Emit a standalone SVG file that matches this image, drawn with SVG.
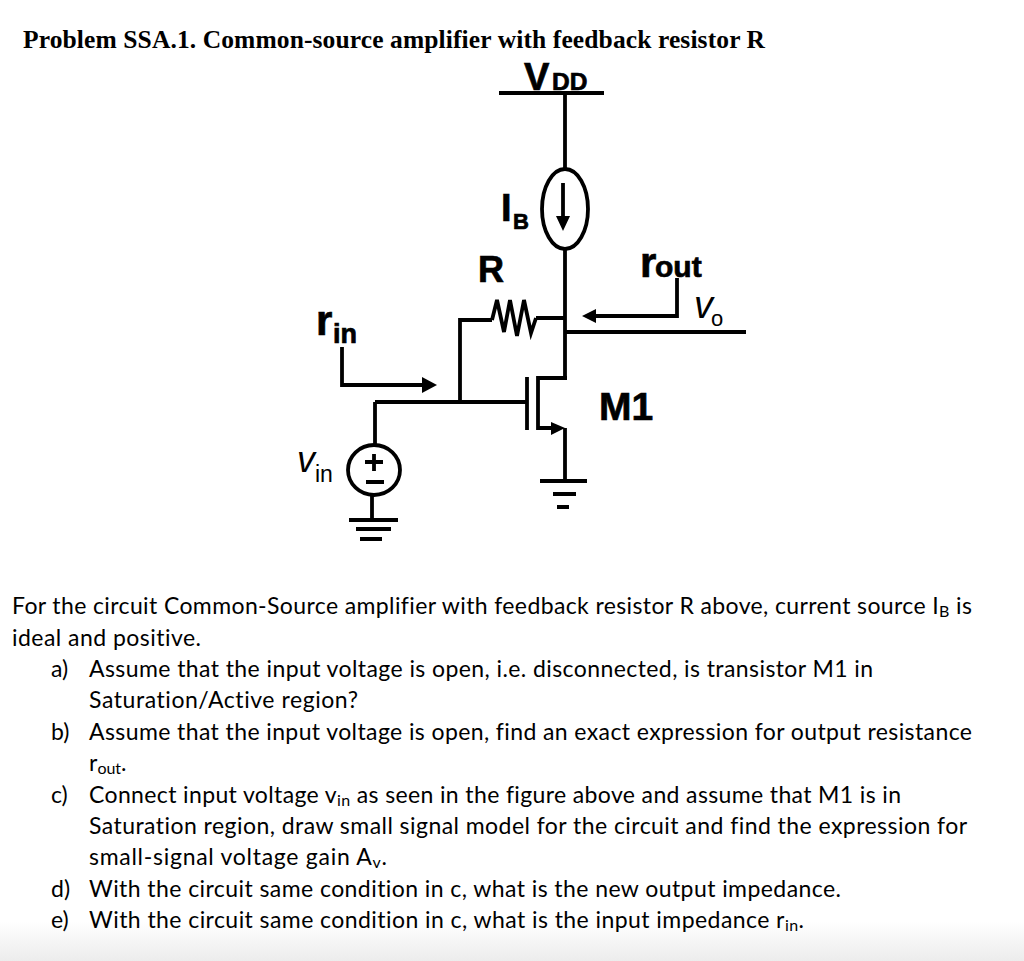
<svg xmlns="http://www.w3.org/2000/svg" width="1024" height="961" viewBox="0 0 1024 961">
<style>
.w{fill:none;stroke:#000;stroke-width:3.8;stroke-linejoin:miter}
.h{fill:#000;stroke:none}
.a{font-family:"Liberation Sans",Arial,sans-serif;fill:#000}
.b{font-weight:700;stroke:#000;stroke-width:.7}
.i{font-style:italic}
.t{font-family:"Lato","Noto Sans",sans-serif;font-size:23px;fill:#000;font-variant-ligatures:none}
.title{font-family:"Liberation Serif","Times New Roman",serif;font-weight:700;font-size:25.5px;fill:#000}
.s{font-size:16px}
</style>
<defs>
<linearGradient id="fade" x1="0" y1="0" x2="0" y2="1"><stop offset="0" stop-color="#fff"/><stop offset="1" stop-color="#ececec"/></linearGradient>
</defs>
<rect width="1024" height="961" fill="#fff"/>
<rect y="921" width="1024" height="40" fill="url(#fade)"/>
<text class="title" x="23" y="48" textLength="742">Problem SSA.1. Common-source amplifier with feedback resistor R</text>

<g id="connectors">
<path class="w" d="M565 93V168M565 250V378M565 428V481"/>
<path class="w" d="M565 332H746"/>
<path class="w" d="M565 318H536M492 320H460V402"/>
<path class="w" d="M375 402H527M375 402V444M372 495V520"/>
<path class="w" d="M567 378H538V428H552"/>
<path class="w" d="M342 347V385H424"/>
<path class="w" d="M677 278V316H594"/>
<path class="h" d="M437 385L422 377V393Z"/>
<path class="h" d="M582 316L596 309V323Z"/>
</g>

<g id="vdd">
<path class="w" d="M499 93H604"/>
<text class="a b" x="524" y="90" font-size="38">V</text>
<text class="a b" x="552" y="90" font-size="24.5">DD</text>
</g>

<g id="ib">
<ellipse class="w" cx="565" cy="209" rx="23" ry="40"/>
<path class="w" d="M563 183V219"/>
<path class="h" d="M563 231L556 216H570Z"/>
<text class="a b" x="501" y="221" font-size="38">I</text>
<text class="a b" x="513" y="229" font-size="22">B</text>
</g>

<g id="r">
<path class="w" d="M492 320L497 300L504 332L510 300L517 336L524 300L531 333L536 318"/>
<text class="a b" x="478" y="282" font-size="36">R</text>
</g>

<g id="rout">
<text class="a b" x="640" y="277" font-size="42">r</text>
<text class="a b" x="655" y="277" font-size="30">out</text>
</g>

<g id="vo">
<text class="a i" x="694" y="318" font-size="38">v</text>
<text class="a" x="711" y="326" font-size="22">o</text>
</g>

<g id="rin">
<text class="a b" x="316" y="335" font-size="42">r</text>
<text class="a b" x="333" y="343" font-size="27">in</text>
</g>

<g id="m1">
<path class="w" d="M527 377V430"/>
<path class="h" d="M551 422L565 428L551 435Z"/>
<text class="a b" x="599" y="420" font-size="39">M1</text>
</g>

<g id="vin">
<ellipse class="w" cx="374" cy="470" rx="26" ry="25"/>
<path class="w" d="M365 462H383M374 454V471M366 482H384"/>
<text class="a i" x="297" y="472" font-size="36">v</text>
<text class="a" x="315" y="482" font-size="23">in</text>
</g>

<g id="gnd1">
<path class="w" d="M540 481H587M553 494H576M557 507H569"/>
</g>
<g id="gnd2">
<path class="w" d="M349 520H398M356 529H391M360 539H382"/>
</g>

<g id="text">
<text class="t" x="12" y="614" textLength="960">For the circuit Common-Source amplifier with feedback resistor R above, current source I<tspan class="s" dy="3">B</tspan><tspan dy="-3"> is</tspan></text>
<text class="t" x="12" y="646" textLength="189">ideal and positive.</text>
<text class="t" x="51" y="677">a)</text>
<text class="t" x="89" y="677" textLength="784">Assume that the input voltage is open, i.e. disconnected, is transistor M1 in</text>
<text class="t" x="89" y="708" textLength="269">Saturation/Active region?</text>
<text class="t" x="51" y="740">b)</text>
<text class="t" x="89" y="740" textLength="883">Assume that the input voltage is open, find an exact expression for output resistance</text>
<text class="t" x="89" y="771">r<tspan class="s" dy="3">out</tspan><tspan dy="-3">.</tspan></text>
<text class="t" x="51" y="803">c)</text>
<text class="t" x="89" y="803" textLength="812">Connect input voltage v<tspan class="s" dy="3">in</tspan><tspan dy="-3"> as seen in the figure above and assume that M1 is in</tspan></text>
<text class="t" x="89" y="834" textLength="878">Saturation region, draw small signal model for the circuit and find the expression for</text>
<text class="t" x="89" y="865" textLength="298">small-signal voltage gain A<tspan class="s" dy="3">v</tspan><tspan dy="-3">.</tspan></text>
<text class="t" x="51" y="897">d)</text>
<text class="t" x="89" y="897" textLength="752">With the circuit same condition in c, what is the new output impedance.</text>
<text class="t" x="51" y="928">e)</text>
<text class="t" x="89" y="928" textLength="715">With the circuit same condition in c, what is the input impedance r<tspan class="s" dy="3">in</tspan><tspan dy="-3">.</tspan></text>
</g>
</svg>
